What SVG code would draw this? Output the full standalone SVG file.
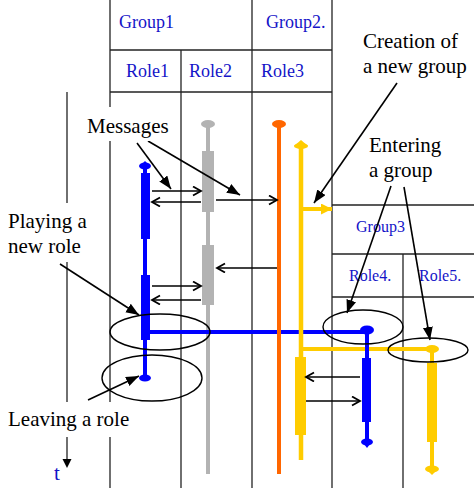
<svg xmlns="http://www.w3.org/2000/svg" width="474" height="488" viewBox="0 0 474 488">
<defs>
<style>
.grid{stroke:#222;stroke-width:1.3;fill:none}
.lbl{font-family:"Liberation Serif","Times New Roman",serif;font-size:21px;fill:#000}
.blu{font-family:"Liberation Serif","Times New Roman",serif;font-size:18px;fill:#1414c8}
.blu16{font-family:"Liberation Serif","Times New Roman",serif;font-size:16px;fill:#1414c8}
.msg{stroke:#000;stroke-width:1.6;fill:none;marker-end:url(#open)}
.ann{stroke:#000;stroke-width:1.6;fill:none;marker-end:url(#solid)}
.ell{stroke:#000;stroke-width:1.4;fill:none}
.bg{fill:#fff}
</style>
<marker id="open" markerUnits="userSpaceOnUse" markerWidth="12" markerHeight="12" refX="9" refY="5" orient="auto">
<path d="M1,0.5 L9,5 L1,9.5" fill="none" stroke="#000" stroke-width="1.8"/>
</marker>
<marker id="solid" markerUnits="userSpaceOnUse" markerWidth="14" markerHeight="12" refX="13" refY="5" orient="auto">
<path d="M0,0 L13,5 L0,10 Z" fill="#000"/>
</marker>
<marker id="yel" markerUnits="userSpaceOnUse" markerWidth="12" markerHeight="12" refX="11" refY="5.5" orient="auto">
<path d="M0,0 L11,5.5 L0,11 Z" fill="#ffcc00"/>
</marker>
</defs>
<rect width="474" height="488" fill="#fff"/>

<g id="grid">
<line class="grid" x1="110" y1="0" x2="110" y2="488"/>
<line class="grid" x1="181" y1="50" x2="181" y2="488"/>
<line class="grid" x1="252" y1="0" x2="252" y2="488"/>
<line class="grid" x1="332" y1="0" x2="332" y2="488"/>
<line class="grid" x1="110" y1="50" x2="332" y2="50"/>
<line class="grid" x1="110" y1="92" x2="332" y2="92"/>
<line class="grid" x1="332" y1="205" x2="474" y2="205"/>
<line class="grid" x1="332" y1="254" x2="474" y2="254"/>
<line class="grid" x1="332" y1="297" x2="474" y2="297"/>
<line class="grid" x1="403" y1="254" x2="403" y2="488"/>
</g>

<g id="time-axis">
<line class="grid" x1="67" y1="92" x2="67" y2="462"/>
<path d="M62.5,459 L67,468 L71.5,459 Z" fill="#000"/>
<text class="blu" x="54" y="480" style="font-size:21px">t</text>
</g>

<g id="headers">
<text class="blu" x="119" y="28">Group1</text>
<text class="blu" x="266" y="28">Group2.</text>
<text class="blu" x="126" y="77">Role1</text>
<text class="blu" x="189" y="77">Role2</text>
<text class="blu" x="261" y="77">Role3</text>
<text class="blu16" x="356" y="232">Group3</text>
<text class="blu16" x="349" y="281">Role4.</text>
<text class="blu16" x="419" y="281">Role5.</text>
</g>

<g id="role2-grey">
<ellipse cx="208" cy="124" rx="7" ry="4" fill="#b3b3b3"/>
<line x1="208" y1="124" x2="208" y2="474" stroke="#b3b3b3" stroke-width="4"/>
<rect x="202" y="151" width="12" height="61" fill="#b3b3b3"/>
<rect x="202" y="245" width="12" height="60" fill="#b3b3b3"/>
</g>

<g id="role1-blue">
<line x1="145" y1="332" x2="367" y2="332" stroke="#0000ff" stroke-width="4"/>
<path d="M142,164 L145,161 L148,164 Z" fill="#0000ff"/>
<ellipse cx="145" cy="166" rx="6" ry="3.5" fill="#0000ff"/>
<line x1="145" y1="166" x2="145" y2="378" stroke="#0000ff" stroke-width="4"/>
<rect x="141" y="173" width="9" height="66" fill="#0000ff"/>
<rect x="141" y="275" width="9" height="65" fill="#0000ff"/>
<ellipse cx="145" cy="378" rx="6" ry="3.5" fill="#0000ff"/>
</g>

<g id="role3-orange">
<ellipse cx="279" cy="124" rx="7" ry="4" fill="#ff6600"/>
<line x1="279" y1="124" x2="279" y2="474" stroke="#ff6600" stroke-width="4"/>
</g>

<g id="group2-yellow">
<path d="M294,146 L301,140 L308,146 Z" fill="#ffcc00"/>
<ellipse cx="301" cy="146" rx="7" ry="3" fill="#ffcc00"/>
<line x1="301" y1="146" x2="301" y2="460" stroke="#ffcc00" stroke-width="4.5"/>
<line x1="301" y1="209" x2="332" y2="209" stroke="#ffcc00" stroke-width="4" marker-end="url(#yel)"/>
<line x1="301" y1="349" x2="432" y2="349" stroke="#ffcc00" stroke-width="4"/>
<rect x="295" y="357" width="11" height="78" fill="#ffcc00"/>
</g>

<g id="role4-blue">
<ellipse cx="367" cy="330" rx="7" ry="4.5" fill="#0000ff"/>
<line x1="367" y1="330" x2="367" y2="443" stroke="#0000ff" stroke-width="4"/>
<rect x="362" y="358" width="9" height="64" fill="#0000ff"/>
<ellipse cx="367" cy="442" rx="6" ry="3.5" fill="#0000ff"/>
<path d="M364,444 L367,448 L370,444 Z" fill="#0000ff"/>
</g>

<g id="role5-yellow">
<ellipse cx="432" cy="349" rx="7" ry="4" fill="#ffcc00"/>
<line x1="432" y1="349" x2="432" y2="470" stroke="#ffcc00" stroke-width="4"/>
<rect x="427" y="363" width="10" height="79" fill="#ffcc00"/>
<ellipse cx="432" cy="469" rx="7" ry="3.5" fill="#ffcc00"/>
<path d="M428,471 L432,475 L436,471 Z" fill="#ffcc00"/>
</g>

<g id="connectors">
<line class="msg" x1="152" y1="191" x2="201" y2="191"/>
<line class="msg" x1="201" y1="202" x2="152" y2="202"/>
<line class="msg" x1="216" y1="200" x2="277" y2="200"/>
<line class="msg" x1="277" y1="268" x2="217" y2="268"/>
<line class="msg" x1="152" y1="286" x2="201" y2="286"/>
<line class="msg" x1="201" y1="300" x2="152" y2="300"/>
<line class="msg" x1="360" y1="377" x2="306" y2="377"/>
<line class="msg" x1="306" y1="401" x2="360" y2="401"/>

<ellipse class="ell" cx="160" cy="332" rx="50" ry="18"/>
<ellipse class="ell" cx="152" cy="378" rx="50" ry="23"/>
<ellipse class="ell" cx="363" cy="327" rx="40" ry="17"/>
<ellipse class="ell" cx="428" cy="350" rx="40" ry="12"/>

<line class="ann" x1="137" y1="143" x2="171" y2="189"/>
<line class="ann" x1="148" y1="141" x2="240" y2="195"/>
<line class="ann" x1="397" y1="83" x2="314" y2="203"/>
<line class="ann" x1="391" y1="186" x2="347" y2="313"/>
<line class="ann" x1="404" y1="187" x2="430" y2="340"/>
<line class="ann" x1="60" y1="264" x2="139" y2="315"/>
<line class="ann" x1="88" y1="400" x2="139" y2="376"/>
</g>

<g id="labels">
<rect class="bg" x="84" y="107" width="86" height="34"/>
<text class="lbl" x="87" y="133">Messages</text>
<text class="lbl" x="363" y="48">Creation of</text>
<text class="lbl" x="363" y="73">a new group</text>
<text class="lbl" x="369" y="152">Entering</text>
<text class="lbl" x="369" y="177">a group</text>
<rect class="bg" x="5" y="203" width="86" height="59"/>
<text class="lbl" x="8" y="228">Playing a</text>
<text class="lbl" x="8" y="253">new role</text>
<rect class="bg" x="5" y="402" width="128" height="35"/>
<text class="lbl" x="8" y="426">Leaving a role</text>
</g>
</svg>
